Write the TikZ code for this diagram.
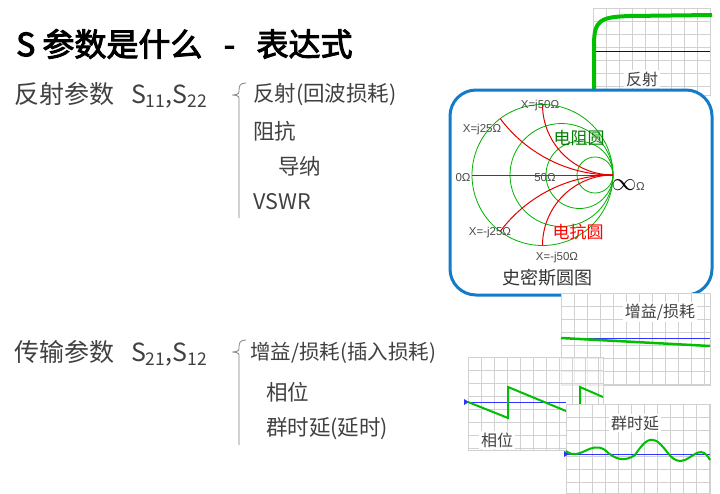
\documentclass[tikz,border=0pt]{standalone}
\usepackage{fontspec}
\setmainfont{Noto Sans CJK SC}
\newfontfamily\cjkbold[FakeBold=3]{Noto Sans CJK SC}
\newfontfamily\lab{Liberation Sans}
\newcommand{\mygrid}[4]{%
  \foreach \gx in {#1,...,#3} {\pgfmathparse{mod(\gx-#1,13)==0}\ifnum\pgfmathresult=1 \draw[gridbox] (\gx,#2) -- (\gx,#4);\fi}%
  \foreach \gy in {#2,...,#4} {\pgfmathparse{mod(\gy-#2,13)==0}\ifnum\pgfmathresult=1 \draw[gridbox] (#1,\gy) -- (#3,\gy);\fi}%
  \draw[gridbox] (#1,#2) rectangle (#3,#4);}
\begin{document}
\begin{tikzpicture}[x=1pt,y=-1pt,
  txt/.style={anchor=west,inner sep=0,text=black!75},
  gridbox/.style={draw=black!18,line width=0.7pt},
  glab/.style={fill=white,inner sep=2pt,text=black!75,font=\fontsize{16}{16}\selectfont},
  slab/.style={inner sep=0,text=black!70,font=\lab\fontsize{11.5}{11.5}\selectfont},
  brc/.style={draw=black!50,line width=0.8pt}]
\useasboundingbox (0,0) rectangle (720,493);
% title
\node[txt,text=black,font=\cjkbold\fontsize{32}{32}\selectfont] (title) at (16,44) {S 参数是什么 \ \ - \ \ 表达式};
% reflection params
\node[txt,font=\fontsize{25}{25}\selectfont] (refl) at (14,95) {反射参数\ \ \ S\textsubscript{11},S\textsubscript{22}};
\node[txt,font=\fontsize{21.5}{21.5}\selectfont] (r1) at (253,95) {反射(回波损耗)};
\node[txt,font=\fontsize{21.5}{21.5}\selectfont] (r2) at (253,131) {阻抗};
\node[txt,font=\fontsize{21.5}{21.5}\selectfont] (r3) at (278,166) {导纳};
\node[txt,font=\fontsize{21.5}{21.5}\selectfont] (r4) at (253,202) {VSWR};
\draw[brc] (246,83) .. controls (240,83) and (239,86) .. (239,90) -- (239,92) .. controls (239,94) and (236,95) .. (232,95) .. controls (236,95) and (239,96) .. (239,98) -- (239,218);
% transmission
\node[txt,font=\fontsize{25}{25}\selectfont] (trans) at (14,353) {传输参数\ \ \ S\textsubscript{21},S\textsubscript{12}};
\draw[brc] (246,340) .. controls (240,340) and (239,343) .. (239,347) -- (239,349) .. controls (239,351) and (236,352) .. (232,352) .. controls (236,352) and (239,353) .. (239,355) -- (239,445);
\node[txt,font=\fontsize{20.5}{20.5}\selectfont] (t1) at (250,353) {增益/损耗(插入损耗)};
\node[txt,font=\fontsize{21.5}{21.5}\selectfont] (t2) at (266,392) {相位};
\node[txt,font=\fontsize{21.5}{21.5}\selectfont] (t3) at (266,429) {群时延(延时)};
% reflection graph
\fill[white] (593,8) rectangle (710,95);
\mygrid{593}{8}{710}{95}
\draw[blue!70!black,line width=0.7pt] (593,51) -- (710,51);
\node[glab] (rg) at (642,79) {反射};
\draw[green!75!black,line width=4pt] (594,96) -- (594,45) .. controls (594,20) and (600,17) .. (630,16) -- (712,15);
% smith box
\draw[draw=cyan!60!blue,line width=3pt,fill=white,rounded corners=26] (450,90) rectangle (712,295);
\begin{scope}[green!70!black,line width=0.8pt]
\draw (542.5,175) circle (70.5);
\draw (561.5,175) circle (51.5);
\draw (579.5,175) circle (33.5);
\draw (595,175) circle (18);
\end{scope}
\begin{scope}
\clip (542.5,175) circle (70.5);
\begin{scope}[red!90!black,line width=1pt]
\draw (613,104.5) circle (70.5);
\draw (613,245.5) circle (70.5);
\draw (613,34) circle (141);
\draw (613,316) circle (141);
\end{scope}
\end{scope}
\draw[red!90!black,line width=1pt] (472,175) -- (613,175);
\node[slab] (l1) at (540,106) {X=j50Ω};
\node[slab] (l2) at (482,130) {X=j25Ω};
\node[slab] (l3) at (463,178) {0Ω};
\node[slab] (l4) at (545,178) {50Ω};
\node[inner sep=0,font=\fontsize{26}{26}\selectfont] (inf) at (624,185) {$\infty$};
\node[slab,anchor=west] (l5) at (636,186) {Ω};
\node[slab] (l6) at (490,233) {X=-j25Ω};
\node[slab] (l7) at (557,258) {X=-j50Ω};
\node[inner sep=0,text=green!50!black,font=\fontsize{17}{17}\selectfont] (rc) at (579,138) {电阻圆};
\node[inner sep=0,text=red,font=\fontsize{17}{17}\selectfont] (xc) at (578,232) {电抗圆};
\node[inner sep=0,text=black!80,font=\fontsize{18}{18}\selectfont] (sm) at (547,278) {史密斯圆图};
% gain graph
\fill[white] (561,293) rectangle (710,385);
\mygrid{561}{293}{710}{385}
\node[glab] (gl) at (660,312) {增益/损耗};
\draw[blue!80,line width=0.8pt] (561,338) -- (710,338);
\draw[green!75!black,line width=2.5pt] (561,338) -- (710,346);
% phase graph
\fill[white,opacity=0.6] (468,357) rectangle (603,450);
\mygrid{468}{357}{603}{450}
\draw[blue!80,line width=0.8pt] (466,402) -- (566,402);
\fill[blue!80] (464,399) -- (469,402) -- (464,405) -- cycle;
\draw[green!75!black,line width=2pt] (468,402) -- (508,418) -- (508,387) -- (566,411);
\draw[green!75!black,line width=2pt] (580,418) -- (580,387) -- (603,397);
\node[glab] (pl) at (497,440) {相位};
% group delay graph
\fill[white] (566,404) rectangle (710,493);
\mygrid{566}{404}{710}{493}
\node[glab] (dl) at (635,423) {群时延};
\draw[blue!80,line width=0.8pt] (566,454) -- (710,454);
\fill[blue!80] (564,451) -- (569,454) -- (564,457) -- cycle;
\draw[green!75!black,line width=2pt] (566,451) .. controls (580,462) and (590,440) .. (605,450) .. controls (615,460) and (625,462) .. (635,455) .. controls (645,440) and (650,437) .. (658,442) .. controls (668,450) and (672,465) .. (685,460) .. controls (695,455) and (702,445) .. (710,460);
\end{tikzpicture}
\end{document}
